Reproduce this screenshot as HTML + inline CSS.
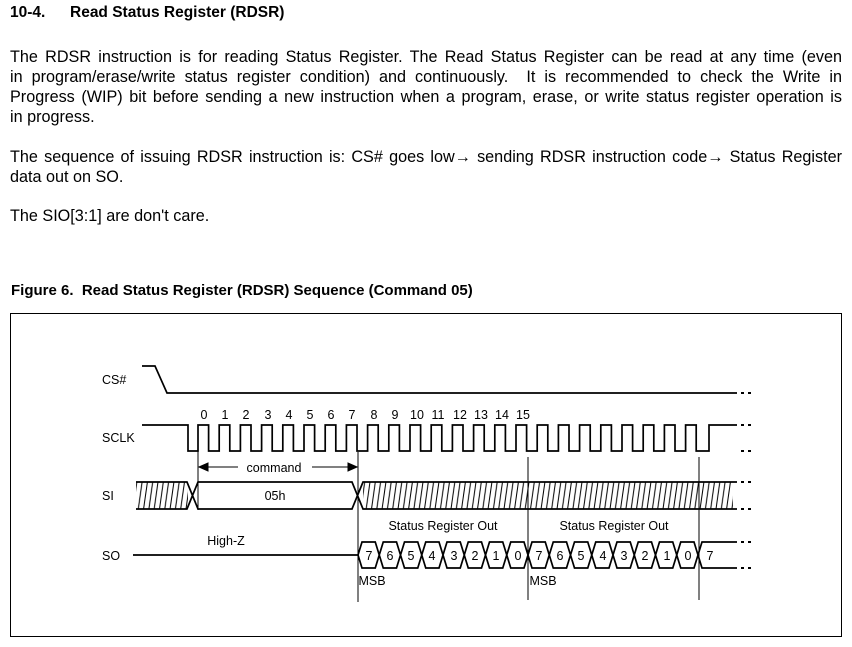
<!DOCTYPE html>
<html><head><meta charset="utf-8"><style>
html,body{margin:0;padding:0;background:#fff;width:852px;height:647px;overflow:hidden;position:relative;font-family:"Liberation Sans",Arial,sans-serif;color:#000}
.h{position:absolute;font-weight:bold;font-size:15.5px;top:4px}
.p{position:absolute;left:10px;width:832px;font-size:16.2px;line-height:20px}
.p div{text-align:justify;text-align-last:justify;white-space:nowrap}
.p div.l{text-align-last:left}
svg{position:absolute;left:0;top:0}
svg text{font-family:"Liberation Sans",Arial,sans-serif}
</style></head><body>
<div class="h" style="left:10px">10-4.</div>
<div class="h" style="left:70px">Read Status Register (RDSR)</div>
<div class="p" style="top:47px">
<div>The RDSR instruction is for reading Status Register. The Read Status Register can be read at any time (even</div>
<div>in program/erase/write status register condition) and continuously.&nbsp; It is recommended to check the Write in</div>
<div>Progress (WIP) bit before sending a new instruction when a program, erase, or write status register operation is</div>
<div class="l">in progress.</div>
</div>
<div class="p" style="top:147px">
<div>The sequence of issuing RDSR instruction is: CS# goes low→ sending RDSR instruction code→ Status Register</div>
<div class="l">data out on SO.</div>
</div>
<div class="p" style="top:206px"><div class="l">The SIO[3:1] are don't care.</div></div>
<div class="h" style="left:11px;top:282px;font-size:15px">Figure 6.&nbsp; Read Status Register (RDSR) Sequence (Command 05)</div>
<svg width="852" height="647" viewBox="0 0 852 647">
<defs>
<pattern id="hat" patternUnits="userSpaceOnUse" width="5.3" height="27" x="0" y="482">
<line x1="4.3" y1="0" x2="0.5" y2="27" stroke="#000" stroke-width="1"/>
</pattern>
</defs>
<rect x="10.5" y="313.5" width="831" height="323" fill="none" stroke="#000" stroke-width="1"/>
<g font-size="12.5">
<text x="102" y="384">CS#</text>
<text x="102" y="442">SCLK</text>
<text x="102" y="500">SI</text>
<text x="102" y="560">SO</text>
</g>
<g font-size="12.5" text-anchor="middle">
<text x="204" y="419">0</text><text x="225" y="419">1</text><text x="246" y="419">2</text><text x="268" y="419">3</text>
<text x="289" y="419">4</text><text x="310" y="419">5</text><text x="331" y="419">6</text><text x="352" y="419">7</text>
<text x="374" y="419">8</text><text x="395" y="419">9</text><text x="417" y="419">10</text><text x="438" y="419">11</text>
<text x="460" y="419">12</text><text x="481" y="419">13</text><text x="502" y="419">14</text><text x="523" y="419">15</text>
</g>
<g fill="none" stroke="#000" stroke-width="1.7">
<polyline points="142,366 155,366 167,393 737,393"/>
<path id="clk" d=""/>
</g>
<g stroke="#000" stroke-width="2" stroke-dasharray="3,4" fill="none">
<line x1="741" y1="393" x2="755" y2="393"/>
<line x1="741" y1="425" x2="755" y2="425"/>
<line x1="741" y1="451" x2="755" y2="451"/>
<line x1="741" y1="482" x2="755" y2="482"/>
<line x1="741" y1="509" x2="755" y2="509"/>
<line x1="741" y1="542" x2="755" y2="542"/>
<line x1="741" y1="568" x2="755" y2="568"/>
</g>
<g stroke="#000" stroke-width="1">
<line x1="198" y1="427" x2="198" y2="510"/>
<line x1="358" y1="452" x2="358" y2="602"/>
<line x1="528" y1="457" x2="528" y2="600"/>
<line x1="699" y1="457" x2="699" y2="600"/>
</g>
<g stroke="#000" stroke-width="1" fill="#000">
<line x1="200" y1="467" x2="238" y2="467"/><polygon points="199,467 208,463 208,471"/>
<line x1="312" y1="467" x2="356" y2="467"/><polygon points="357,467 348,463 348,471"/>
</g>
<text x="274" y="472" font-size="12.5" text-anchor="middle">command</text>
<rect x="136" y="482" width="52" height="27" fill="url(#hat)"/>
<rect x="363" y="482" width="370" height="27" fill="url(#hat)"/>
<g fill="none" stroke="#000" stroke-width="1.7">
<polyline points="136,482 187,482 198,509 352,509 363,482 737,482"/>
<polyline points="136,509 187,509 198,482 352,482 363,509 737,509"/>
<polyline points="133,555 358,555"/>
<path id="so" d=""/>
</g>
<text x="275" y="500" font-size="12.5" text-anchor="middle">05h</text>
<text x="226" y="545" font-size="12.5" text-anchor="middle">High-Z</text>
<text x="443" y="530" font-size="12.5" text-anchor="middle">Status Register Out</text>
<text x="614" y="530" font-size="12.5" text-anchor="middle">Status Register Out</text>
<text x="372" y="585" font-size="12.5" text-anchor="middle">MSB</text>
<text x="543" y="585" font-size="12.5" text-anchor="middle">MSB</text>
<g font-size="12.5" text-anchor="middle">
<text x="369" y="560">7</text><text x="390" y="560">6</text><text x="411" y="560">5</text><text x="432" y="560">4</text>
<text x="454" y="560">3</text><text x="475" y="560">2</text><text x="496" y="560">1</text><text x="518" y="560">0</text>
<text x="539" y="560">7</text><text x="560" y="560">6</text><text x="581" y="560">5</text><text x="603" y="560">4</text>
<text x="624" y="560">3</text><text x="645" y="560">2</text><text x="667" y="560">1</text><text x="688" y="560">0</text>
<text x="710" y="560">7</text>
</g>
</svg>
<script>
(function(){
var hi=425,lo=451,p=21.2,d="M142 "+hi+" L188 "+hi+" L188 "+lo;
for(var k=0;k<24;k++){var r=198+p*k;d+=" L"+r+" "+lo+" L"+r+" "+hi+" L"+(r+p/2)+" "+hi+" L"+(r+p/2)+" "+lo;}
d+=" L709 "+lo+" L709 "+hi+" L737 "+hi;
document.getElementById("clk").setAttribute("d",d);
var t=542,b=568,m=555,w=21.25,s="";
for(var i=0;i<16;i++){var x0=358+w*i,x1=x0+w;
s+="M"+x0+" "+m+" L"+(x0+4)+" "+t+" L"+(x1-4)+" "+t+" L"+x1+" "+m+" L"+(x1-4)+" "+b+" L"+(x0+4)+" "+b+" Z ";}
var x0=358+w*16;
s+="M737 "+t+" L"+(x0+4)+" "+t+" L"+x0+" "+m+" L"+(x0+4)+" "+b+" L737 "+b;
document.getElementById("so").setAttribute("d",s);
})();
</script>
</body></html>
